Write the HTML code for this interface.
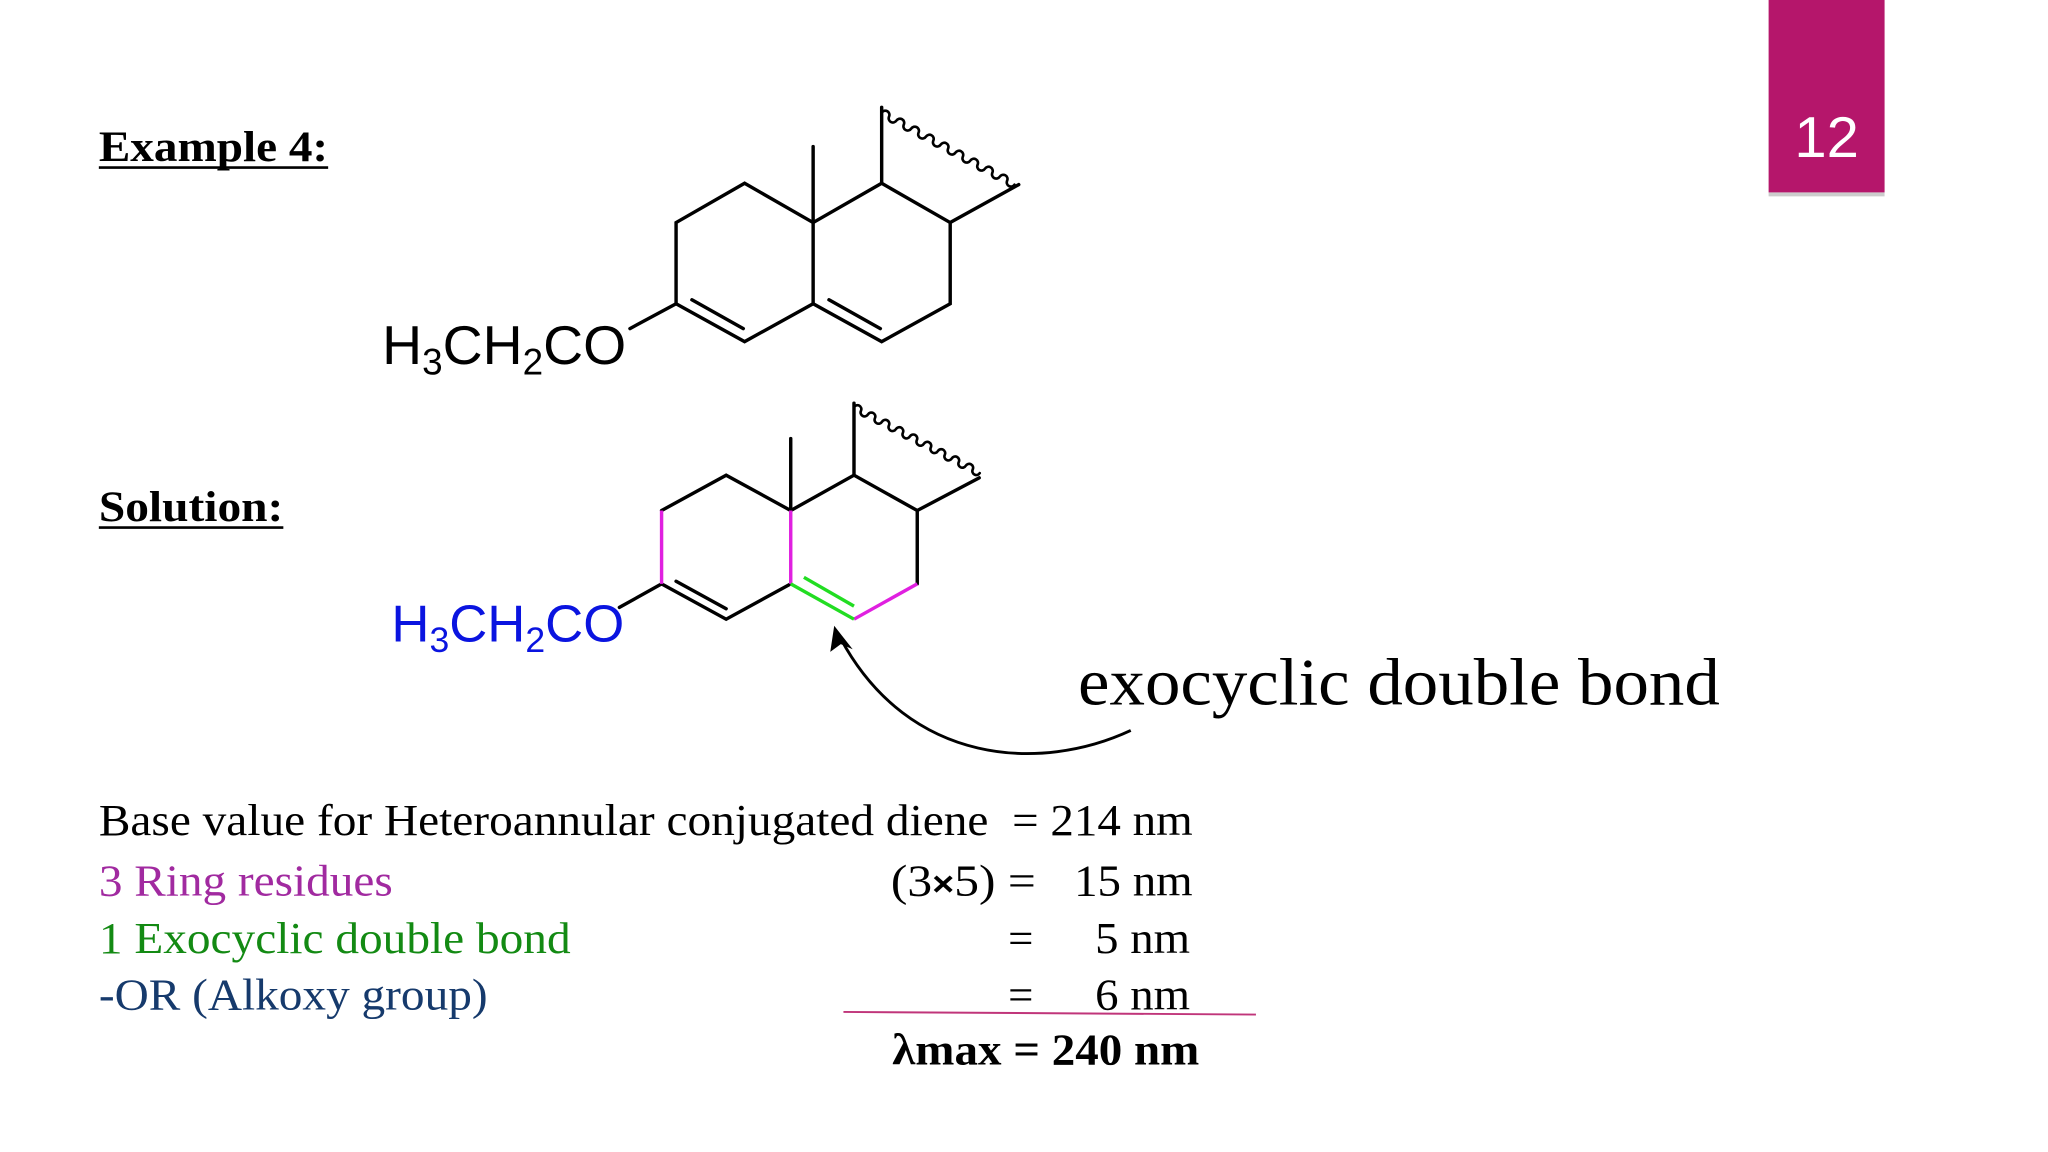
<!DOCTYPE html>
<html><head><meta charset="utf-8"><style>
html,body{margin:0;padding:0;background:#fff;}
svg{display:block;}
.s{font-family:"Liberation Serif",serif;}
.a{font-family:"Liberation Sans",sans-serif;}
</style></head><body>
<svg width="2048" height="1152" viewBox="0 0 1554 880" preserveAspectRatio="none" xmlns="http://www.w3.org/2000/svg">
<rect width="1554" height="880" fill="#fff"/>
<rect x="1342" y="0" width="88" height="147" fill="#b5166b"/>
<rect x="1342" y="147" width="88" height="3" fill="#ccc"/>
<text x="1386" y="120" font-size="44" fill="#fff" text-anchor="middle" class="a">12</text>

<text x="75" y="123" font-size="33" font-weight="bold" class="s" textLength="174" lengthAdjust="spacingAndGlyphs">Example 4:</text>
<line x1="75" y1="128" x2="249" y2="128" stroke="#000" stroke-width="2"/>
<text x="75" y="398" font-size="33" font-weight="bold" class="s" textLength="140" lengthAdjust="spacingAndGlyphs">Solution:</text>
<line x1="75" y1="403" x2="215" y2="403" stroke="#000" stroke-width="2"/>

<g stroke="#000" stroke-width="2.6" fill="none" stroke-linecap="round">
<polyline points="513,232 513,170 565,140 617,170 669,140 721,170 721,232 669,261 617,232 565,261 513,232"/>
<line x1="617" y1="170" x2="617" y2="232"/>
<line x1="617" y1="170" x2="617" y2="112"/>
<line x1="669" y1="140" x2="669" y2="82"/>
<line x1="721" y1="170" x2="773" y2="141"/>
<line x1="513" y1="232" x2="478" y2="251"/>
<line x1="525" y1="229" x2="564" y2="251"/>
<line x1="629" y1="229" x2="668" y2="251"/>
<path d="M669,86 a3.2,3.2 0 0 1 5.6,3.06 a3.2,3.2 0 0 0 5.6,3.06 a3.2,3.2 0 0 1 5.6,3.06 a3.2,3.2 0 0 0 5.6,3.06 a3.2,3.2 0 0 1 5.6,3.06 a3.2,3.2 0 0 0 5.6,3.06 a3.2,3.2 0 0 1 5.6,3.06 a3.2,3.2 0 0 0 5.6,3.06 a3.2,3.2 0 0 1 5.6,3.06 a3.2,3.2 0 0 0 5.6,3.06 a3.2,3.2 0 0 1 5.6,3.06 a3.2,3.2 0 0 0 5.6,3.06 a3.2,3.2 0 0 1 5.6,3.06 a3.2,3.2 0 0 0 5.6,3.06 a3.2,3.2 0 0 1 5.6,3.06 a3.2,3.2 0 0 0 5.6,3.06 a3.2,3.2 0 0 1 5.6,3.06 a3.2,3.2 0 0 0 5.6,3.06" stroke-width="2"/>
</g>
<text x="290" y="278" font-size="42" class="a">H<tspan font-size="28" dy="8">3</tspan><tspan dy="-8">CH</tspan><tspan font-size="28" dy="8">2</tspan><tspan dy="-8">CO</tspan></text>

<g stroke="#000" stroke-width="2.6" fill="none" stroke-linecap="round">
<polyline points="502,390 551,363 600,390 648,363 696,390 696,446"/>
<polyline points="502,446 551,473 600,446"/>
<line x1="600" y1="390" x2="600" y2="335"/>
<line x1="648" y1="363" x2="648" y2="308"/>
<line x1="696" y1="390" x2="743" y2="365"/>
<line x1="502" y1="446" x2="470" y2="464"/>
<line x1="513" y1="444" x2="551" y2="465"/>
<path d="M648,311 a3,3 0 0 1 5.3,2.8 a3,3 0 0 0 5.3,2.8 a3,3 0 0 1 5.3,2.8 a3,3 0 0 0 5.3,2.8 a3,3 0 0 1 5.3,2.8 a3,3 0 0 0 5.3,2.8 a3,3 0 0 1 5.3,2.8 a3,3 0 0 0 5.3,2.8 a3,3 0 0 1 5.3,2.8 a3,3 0 0 0 5.3,2.8 a3,3 0 0 1 5.3,2.8 a3,3 0 0 0 5.3,2.8 a3,3 0 0 1 5.3,2.8 a3,3 0 0 0 5.3,2.8 a3,3 0 0 1 5.3,2.8 a3,3 0 0 0 5.3,2.8 a3,3 0 0 1 5.3,2.8 a3,3 0 0 0 5.3,2.8" stroke-width="2"/>
</g>
<g stroke="#e020e0" stroke-width="2.6" fill="none">
<line x1="502" y1="390" x2="502" y2="446"/>
<line x1="600" y1="390" x2="600" y2="446"/>
<line x1="648" y1="473" x2="696" y2="446"/>
</g>
<g stroke="#22dd22" stroke-width="2.6" fill="none">
<line x1="600" y1="446" x2="648" y2="473"/>
<line x1="610" y1="441" x2="648" y2="463"/>
</g>
<text x="297" y="490" font-size="40" fill="#0a14e0" class="a">H<tspan font-size="27" dy="8">3</tspan><tspan dy="-8">CH</tspan><tspan font-size="27" dy="8">2</tspan><tspan dy="-8">CO</tspan></text>

<path d="M858,558 C790,590 690,585 638,488" stroke="#000" stroke-width="2.2" fill="none"/>
<polygon points="633,478 647,496 638,492 630,498" fill="#000"/>

<text x="818" y="538" font-size="51" class="s" textLength="487" lengthAdjust="spacingAndGlyphs">exocyclic double bond</text>

<g class="s" font-size="34">
<text x="75" y="638" textLength="675" lengthAdjust="spacingAndGlyphs">Base value for Heteroannular conjugated diene</text>
<text x="768" y="638" textLength="137" lengthAdjust="spacingAndGlyphs">= 214 nm</text>
<text x="75" y="684" fill="#a12aa0" textLength="223" lengthAdjust="spacingAndGlyphs">3 Ring residues</text>
<text x="676" y="684" textLength="110" lengthAdjust="spacingAndGlyphs">(3<tspan font-family="Liberation Sans" font-weight="bold" font-size="26">×</tspan>5) =</text>
<text x="815" y="684" textLength="90" lengthAdjust="spacingAndGlyphs">15 nm</text>
<text x="75" y="728" fill="#138a13" textLength="358" lengthAdjust="spacingAndGlyphs">1 Exocyclic double bond</text>
<text x="765" y="728">=</text><text x="831" y="728" textLength="72" lengthAdjust="spacingAndGlyphs">5 nm</text>
<text x="75" y="771" fill="#163a6c" textLength="295" lengthAdjust="spacingAndGlyphs">-OR (Alkoxy group)</text>
<text x="765" y="771">=</text><text x="831" y="771" textLength="72" lengthAdjust="spacingAndGlyphs">6 nm</text>
<text x="677" y="813" font-weight="bold" textLength="233" lengthAdjust="spacingAndGlyphs">λmax = 240 nm</text>
</g>
<line x1="640" y1="773" x2="953" y2="775" stroke="#c0357a" stroke-width="1.5"/>
</svg>
</body></html>
